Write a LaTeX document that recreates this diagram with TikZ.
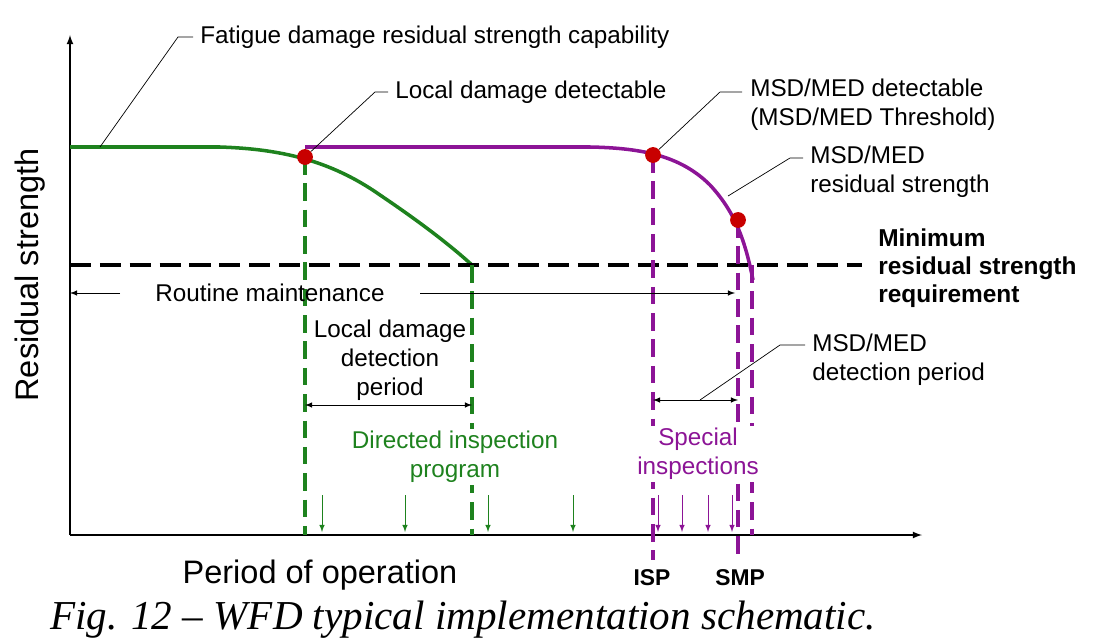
\documentclass[tikz,border=0pt]{standalone}
\usepackage{fontspec}
\setmainfont{Liberation Sans}
\newfontfamily\capfont{Liberation Serif}
\definecolor{gr}{RGB}{30,130,30}
\definecolor{pu}{RGB}{140,20,150}
\definecolor{rd}{RGB}{200,0,0}
\begin{document}
\begin{tikzpicture}[x=0.02cm,y=-0.02cm,
  lbl/.style={font=\fontsize{13.8}{16.5}\selectfont,inner sep=0pt},
  lead/.style={draw,thin},
  gdash/.style={gr,line width=2.2pt,dash pattern=on 10pt off 5pt},
  pdash/.style={pu,line width=2.2pt,dash pattern=on 10pt off 5pt},
  dot/.style={circle,fill=rd,inner sep=0pt,minimum size=9pt},
  tick/.style={-latex,thin}]
\useasboundingbox (0,0) rectangle (1094,642);
% axes
\coordinate (O) at (70,535);
\coordinate (Y) at (70,35);
\coordinate (X) at (922,535);
\draw[-latex,thick] (O) -- (Y);
\draw[-latex,thick] (O) -- (X);
\node[rotate=90,font=\fontsize{18.5}{22}\selectfont] (ylab) at (30,275) {Residual strength};
\node[font=\fontsize{18.5}{22}\selectfont] (xlab) at (320,575) {Period of operation};
% curves
\draw[pu,line width=2pt] (305,147) -- (590,147) .. controls (640,148) and (680,155) .. (710,185) .. controls (735,212) and (745,240) .. (753,280);
\draw[gr,line width=2pt] (70,147) -- (220,147) .. controls (280,149) and (330,160) .. (380,195) .. controls (420,222) and (450,245) .. (472,265);
% min line
\draw[line width=2.2pt,dash pattern=on 12pt off 5pt] (70,265) -- (862,265);
\node[lbl,font=\fontsize{13.9}{16}\selectfont\bfseries,align=left,anchor=west] (minr) at (878,268) {Minimum\\residual strength\\requirement};
% verticals
\draw[gdash] (305,157) -- (305,535);
\draw[gdash] (472,265) -- (472,535);
\draw[pdash] (653,155) -- (653,560);
\draw[pdash] (738,220) -- (738,560);
\draw[pdash] (752,265) -- (752,535);
% dots
\node[dot] (d1) at (305,157) {};
\node[dot] (d2) at (653,155) {};
\node[dot] (d3) at (738,220) {};
% leaders
\node[lbl,anchor=west] (t1) at (200,37) {Fatigue damage residual strength capability};
\draw[lead] (100,147) -- (178,37) -- (193,37);
\node[lbl,anchor=west] (t2) at (395,92) {Local damage detectable};
\draw[lead] (d1) -- (375,92) -- (388,92);
\node[lbl,anchor=west,align=left] (t3) at (750,105) {MSD/MED detectable\\(MSD/MED Threshold)};
\draw[lead] (d2) -- (720,92) -- (742,92);
\node[lbl,anchor=west,align=left] (t4) at (810,172) {MSD/MED\\residual strength};
\draw[lead] (728,196) -- (790,158) -- (803,158);
% routine maintenance
\node[lbl] (rm) at (270,293) {Routine maintenance};
\draw[-latex,thin] (120,293) -- (70,293);
\draw[-latex,thin] (420,293) -- (735,293);
% local damage detection period
\node[lbl,align=center] (ldp) at (390,360) {Local damage\\detection\\period};
\draw[latex-latex,thin] (305,405) -- (472,405);
% MSD/MED detection period
\node[lbl,anchor=west,align=left] (mdp) at (812,360) {MSD/MED\\detection period};
\draw[latex-latex,thin] (653,400) -- (738,400);
\draw[lead] (700,400) -- (780,345) -- (805,345);
% inspections
\node[lbl,gr,align=center,fill=white,inner sep=1pt] (dip) at (455,457) {Directed inspection\\program};
\node[lbl,pu,align=center,fill=white,inner sep=1pt] (si) at (698,454) {Special\\inspections};
\foreach \x in {322,405,488,573} \draw[tick,gr] (\x,495) -- (\x,532);
\foreach \x in {658,682,708,732} \draw[tick,pu] (\x,495) -- (\x,532);
\node[font=\fontsize{13}{15}\selectfont\bfseries] (isp) at (652,578) {ISP};
\node[font=\fontsize{13}{15}\selectfont\bfseries] (smp) at (740,578) {SMP};
% caption
\node[anchor=west,inner sep=0pt,font=\fontsize{23.4}{26}\selectfont\capfont\itshape] (cap) at (50,620) {Fig. 12 – WFD typical implementation schematic.};
\end{tikzpicture}
\end{document}
